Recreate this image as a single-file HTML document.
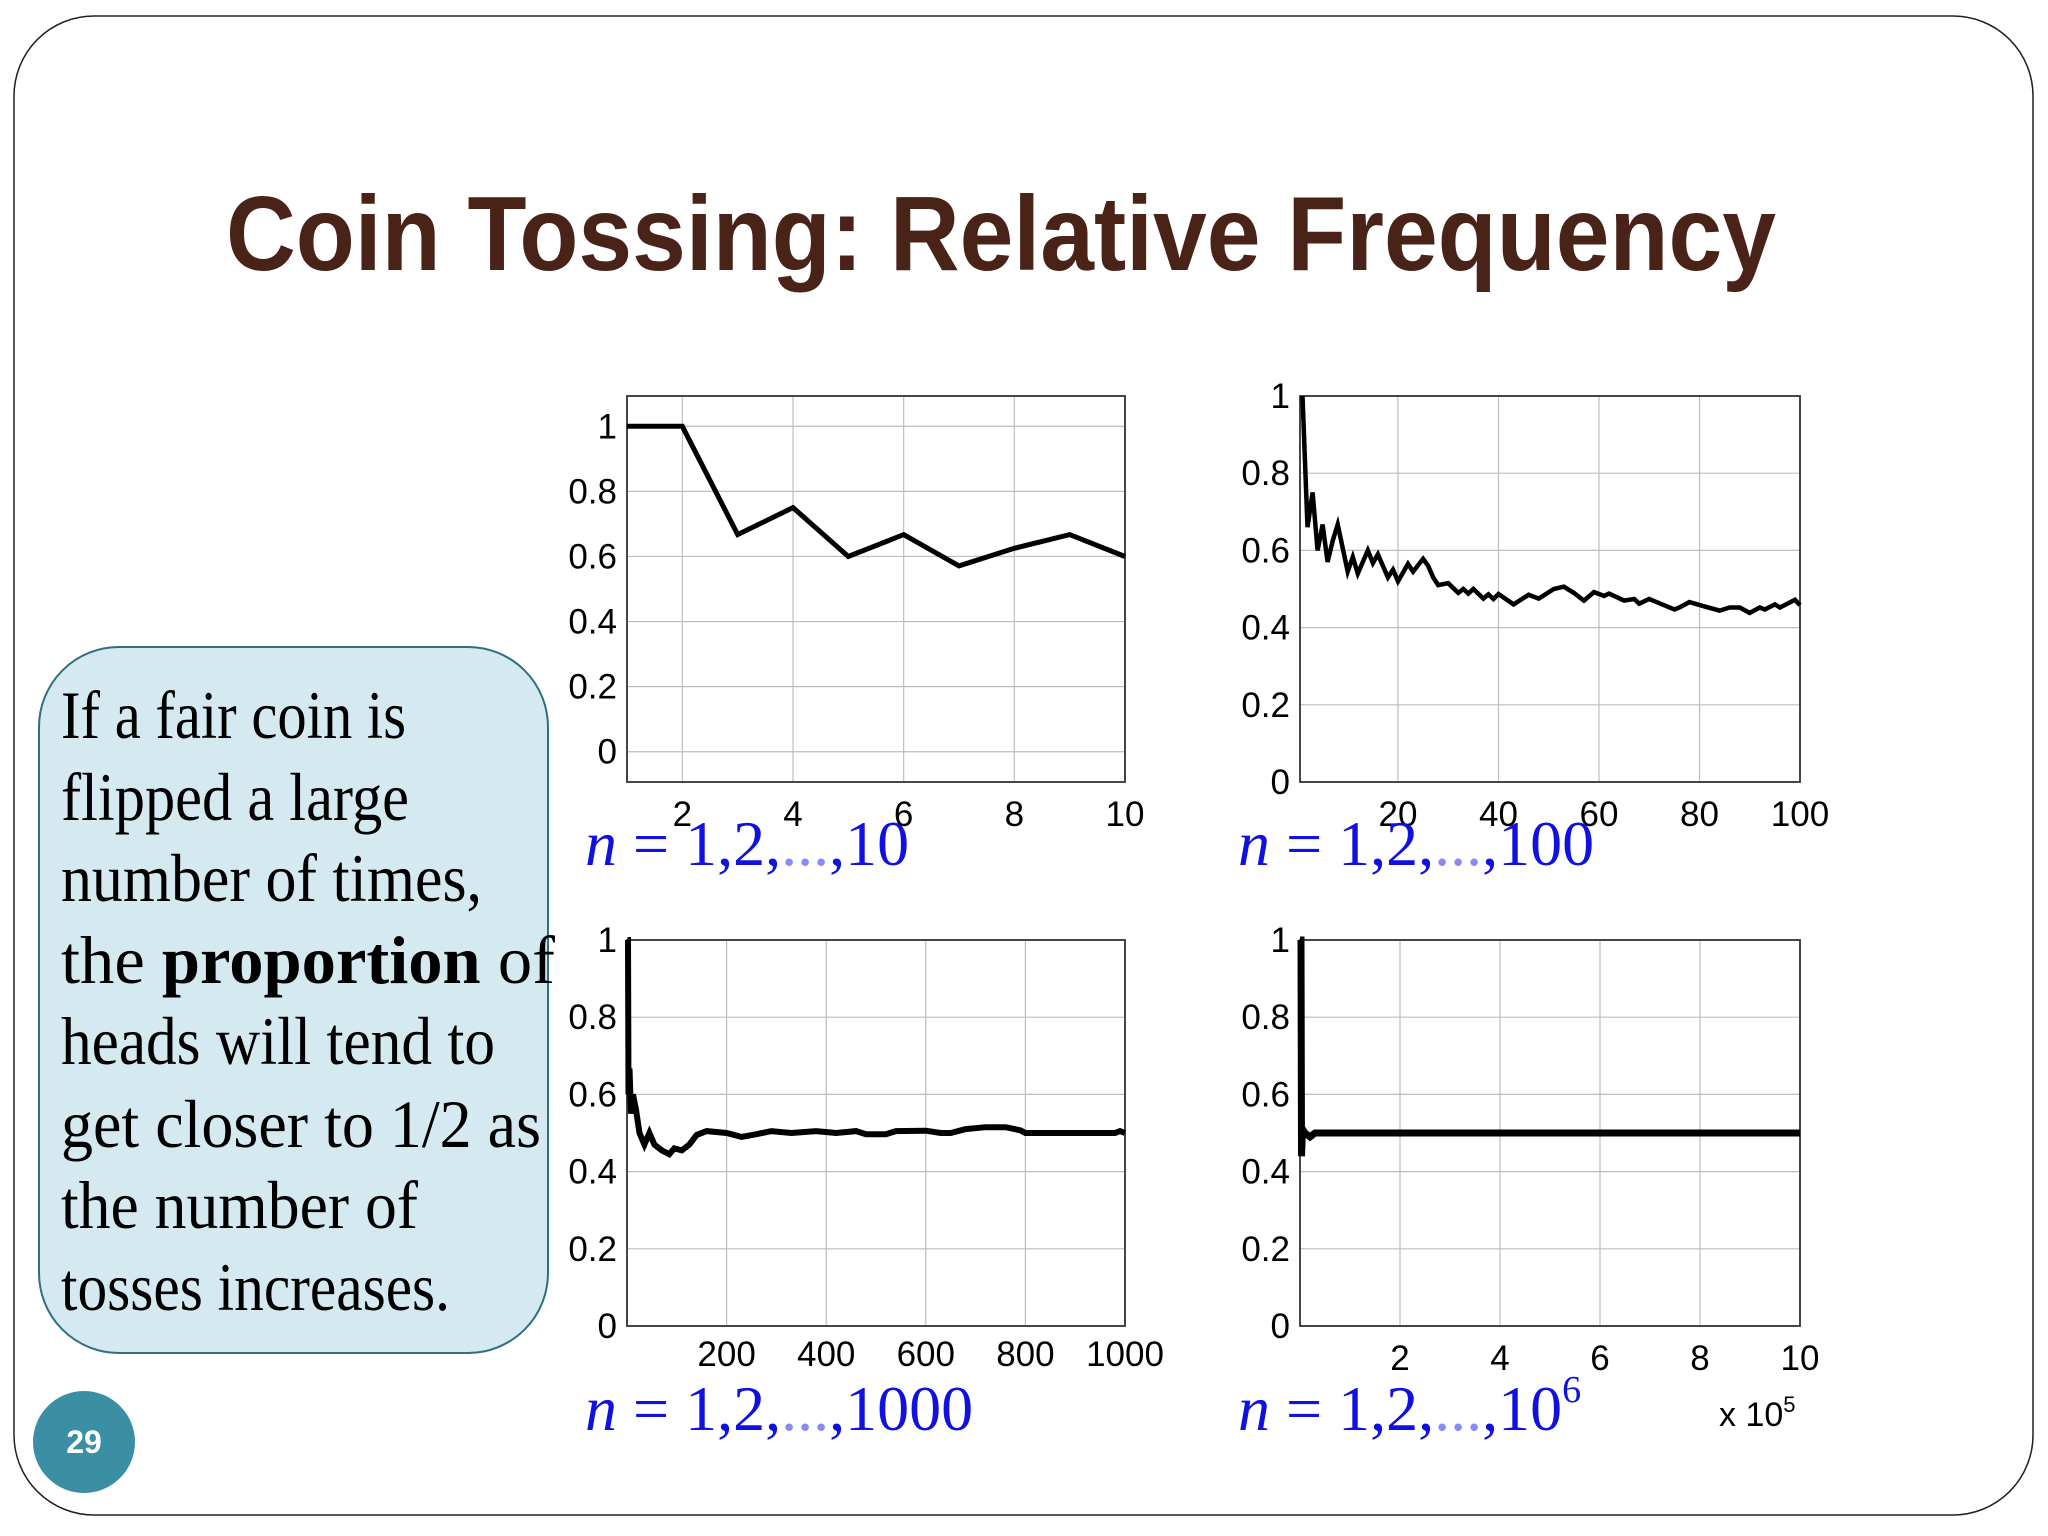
<!DOCTYPE html>
<html><head><meta charset="utf-8"><style>
html,body{margin:0;padding:0;background:#fff;}
svg{display:block;}
</style></head><body>
<svg id="slide" width="2048" height="1536" viewBox="0 0 2048 1536" xmlns="http://www.w3.org/2000/svg">
  <rect x="14" y="16" width="2019" height="1499" rx="80" ry="80" fill="#fff" stroke="#222" stroke-width="1.5"/>
  <text x="226" y="270" textLength="1550" lengthAdjust="spacingAndGlyphs" font-family="'Liberation Sans Narrow','Liberation Sans',sans-serif" font-weight="bold" font-size="106" fill="#4a2318">Coin Tossing: Relative Frequency</text>
  <rect x="39" y="647" width="509" height="706" rx="80" ry="80" fill="#d5eaf0" stroke="#2e6f80" stroke-width="2"/>
  <g font-family="'Liberation Serif',serif" font-size="68" fill="#000">
    <text x="61" y="738" textLength="345" lengthAdjust="spacingAndGlyphs">If a fair coin is</text>
    <text x="61" y="820" textLength="348" lengthAdjust="spacingAndGlyphs">flipped a large</text>
    <text x="61" y="901" textLength="421" lengthAdjust="spacingAndGlyphs">number of times,</text>
    <text x="61" y="983" textLength="494" lengthAdjust="spacingAndGlyphs">the <tspan font-weight="bold">proportion</tspan> of</text>
    <text x="61" y="1064" textLength="434" lengthAdjust="spacingAndGlyphs">heads will tend to</text>
    <text x="61" y="1147" textLength="480" lengthAdjust="spacingAndGlyphs">get closer to 1/2 as</text>
    <text x="61" y="1228" textLength="357" lengthAdjust="spacingAndGlyphs">the number of</text>
    <text x="61" y="1310" textLength="389" lengthAdjust="spacingAndGlyphs">tosses increases.</text>
  </g>
  <circle cx="84" cy="1442" r="51" fill="#3a8fa5"/>
  <text x="84" y="1453" text-anchor="middle" font-family="'Liberation Sans',sans-serif" font-weight="bold" font-size="32" fill="#fff">29</text>

  <g id="charts"></g>

  <g font-family="'Liberation Serif',serif" font-size="64" fill="#1010e0">
    <text x="585" y="865"><tspan font-style="italic">n</tspan> = 1,2,<tspan fill="#8a8af0">...</tspan>,10</text>
    <text x="1238" y="865"><tspan font-style="italic">n</tspan> = 1,2,<tspan fill="#8a8af0">...</tspan>,100</text>
    <text x="585" y="1430"><tspan font-style="italic">n</tspan> = 1,2,<tspan fill="#8a8af0">...</tspan>,1000</text>
    <text x="1238" y="1430"><tspan font-style="italic">n</tspan> = 1,2,<tspan fill="#8a8af0">...</tspan>,10<tspan font-size="38" dy="-28">6</tspan></text>
  </g>
  <text x="1719" y="1426" font-family="'Liberation Sans',sans-serif" font-size="34" fill="#000">x 10<tspan font-size="22" dy="-14">5</tspan></text>
</svg>
<script>
// Chart 1: n = 1..10
const n1 = [1,2,3,4,5,6,7,8,9,10];
const p1 = [1,1,0.667,0.75,0.6,0.667,0.571,0.625,0.667,0.6];
const xt1 = [2,4,6,8,10];
const yt1 = [0,0.2,0.4,0.6,0.8,1];
const yl1 = ['0','0.2','0.4','0.6','0.8','1'];
// Chart 2: n = 1..100
const n2 = [1,2,3,4,5,6,7,8,10,11,12,14,15,16,18,19,20,22,23,25,26,27,28,30,32,33,34,35,37,38,39,40,43,46,48,51,53,55,57,59,61,62,65,67,68,70,75,76,78,81,84,86,88,90,92,93,95,96,99,100];
const p2 = [1,0.66,0.75,0.6,0.667,0.57,0.625,0.667,0.545,0.583,0.54,0.6,0.567,0.59,0.53,0.55,0.52,0.565,0.545,0.578,0.56,0.53,0.51,0.515,0.49,0.5,0.488,0.5,0.475,0.486,0.474,0.487,0.46,0.485,0.475,0.5,0.506,0.49,0.47,0.492,0.482,0.488,0.47,0.474,0.462,0.474,0.447,0.452,0.466,0.455,0.444,0.452,0.452,0.438,0.452,0.447,0.46,0.452,0.472,0.458];
const xt2 = [20,40,60,80,100];
// Chart 3: n = 1..1000
const n3 = [1,2,3,5,8,12,18,25,35,45,55,70,85,95,110,125,140,160,200,230,260,290,330,380,420,460,480,520,540,600,630,650,680,720,760,790,800,980,990,1000];
const p3 = [1,1,0.6,0.667,0.55,0.6,0.56,0.5,0.47,0.5,0.47,0.455,0.445,0.46,0.455,0.47,0.495,0.505,0.5,0.49,0.497,0.505,0.5,0.505,0.5,0.505,0.497,0.497,0.505,0.506,0.5,0.5,0.51,0.515,0.515,0.507,0.5,0.5,0.505,0.5];
const xt3 = [200,400,600,800,1000];
// Chart 4: n = 1..10^6 (x in units of 10^5)
const n4 = [0,0.02,0.03,0.05,0.1,0.2,0.3,10];
const p4 = [1,1,0.44,0.51,0.5,0.49,0.5,0.5];
const xt4 = [2,4,6,8,10];

const NS = 'http://www.w3.org/2000/svg';
const root = document.getElementById('charts');
function mk(tag, attrs, parent){
  const e = document.createElementNS(NS, tag);
  for (const k in attrs) e.setAttribute(k, attrs[k]);
  parent.appendChild(e);
  return e;
}
function chart(name, box, xd, yd, xs, ys, xt, lw, xLabY){
  const g = mk('g', {}, root);
  
  
  const sx = v => box.l + (v - xd[0]) / (xd[1] - xd[0]) * (box.r - box.l);
  const sy = v => box.b - (v - yd[0]) / (yd[1] - yd[0]) * (box.b - box.t);
  mk('rect', {x:box.l, y:box.t, width:box.r-box.l, height:box.b-box.t, fill:'#fff'}, g);
  xt.forEach(v => {
    const x = sx(v);
    const gl = mk('line', {x1:x, x2:x, y1:box.t, y2:box.b, stroke:'#bdbdbd', 'stroke-width':1.2}, g);
    
    
    const t = mk('text', {x:x, y:xLabY, 'text-anchor':'middle', 'font-family':"'Liberation Sans',sans-serif", 'font-size':35, fill:'#000'}, g);
    t.textContent = String(v);
    
    
  });
  yt1.forEach((v, i) => {
    const y = sy(v);
    const gl = mk('line', {x1:box.l, x2:box.r, y1:y, y2:y, stroke:'#bdbdbd', 'stroke-width':1.2}, g);
    
    
    const t = mk('text', {x:box.l - 10, y:y + 12, 'text-anchor':'end', 'font-family':"'Liberation Sans',sans-serif", 'font-size':35, fill:'#000'}, g);
    t.textContent = yl1[i];
    
    
  });
  const ax = mk('rect', {x:box.l, y:box.t, width:box.r-box.l, height:box.b-box.t, fill:'none', stroke:'#333', 'stroke-width':1.8}, g);
  
  
  const pts = xs.map((v, i) => sx(v).toFixed(1) + ',' + sy(ys[i]).toFixed(1)).join(' ');
  const pl = mk('polyline', {points:pts, fill:'none', stroke:'#000', 'stroke-width':lw, 'stroke-linejoin':'miter', 'stroke-linecap':'butt'}, g);
  
  
}
chart('chart-n10', {l:627, r:1125, t:396, b:782}, [1,10], [-0.093,1.093], n1, p1, xt1, 5, 826);
chart('chart-n100', {l:1300, r:1800, t:396, b:782}, [0.5,100], [0,1], n2, p2, xt2, 4.5, 826);
chart('chart-n1000', {l:627, r:1125, t:940, b:1326}, [0,1000], [0,1], n3, p3, xt3, 6, 1366);
chart('chart-n1e6', {l:1300, r:1800, t:940, b:1326}, [0,10], [0,1], n4, p4, xt4, 7, 1370);
</script>
</body></html>
